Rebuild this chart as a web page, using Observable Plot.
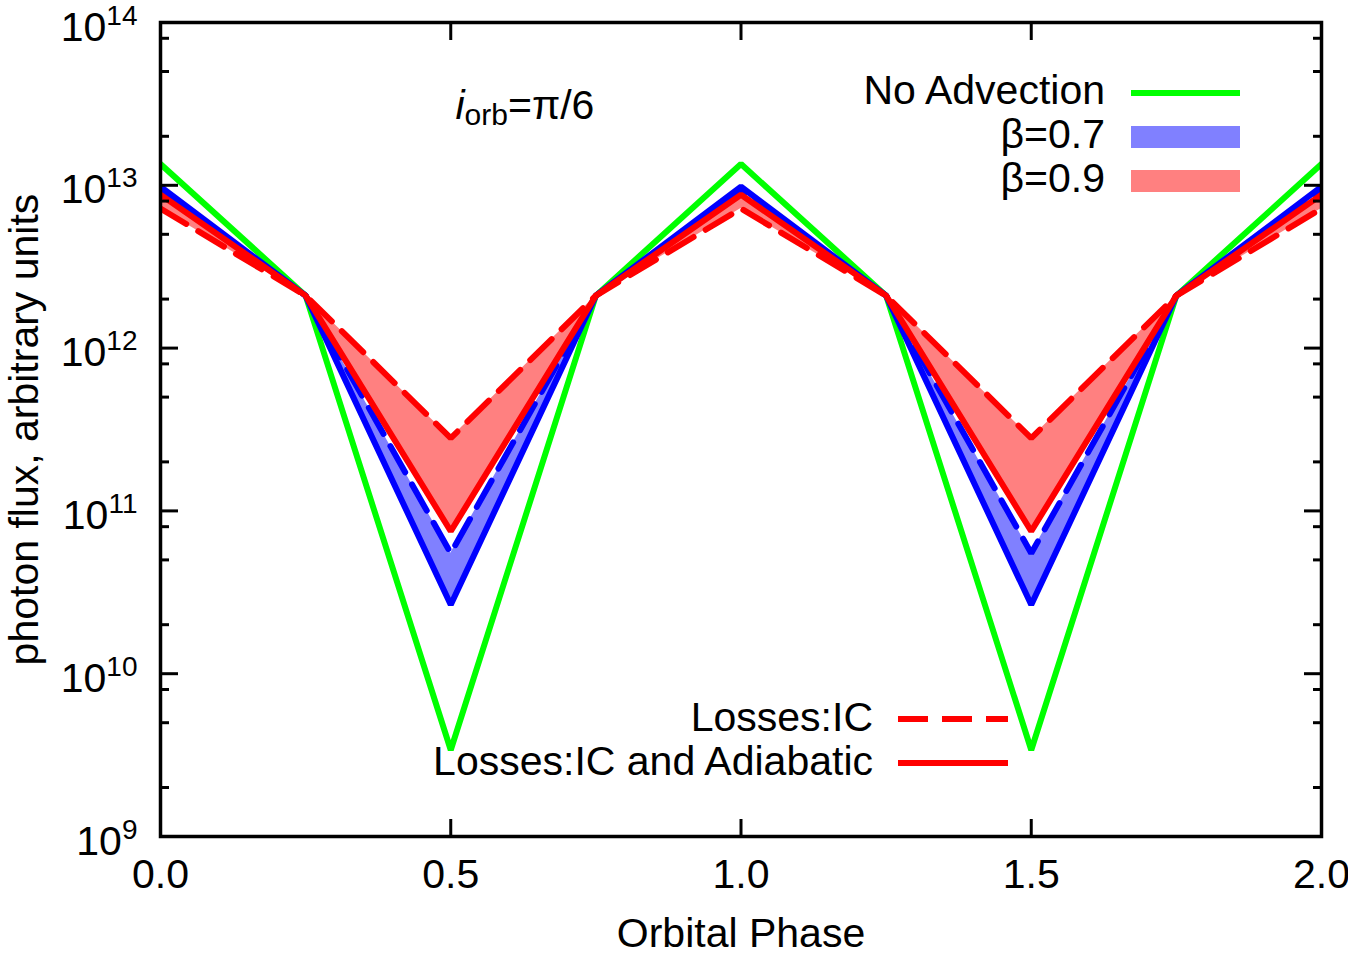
<!DOCTYPE html>
<html><head><meta charset="utf-8">
<script src="https://cdn.jsdelivr.net/npm/d3@7"></script>
<script src="https://cdn.jsdelivr.net/npm/@observablehq/plot@0.6"></script>
<style>html,body{margin:0;padding:0;background:#fff;overflow:hidden}#chart svg{display:block}</style>
</head><body><div id="chart"></div>
<script>
// ---- data ----
const phase        = [0, 0.25, 0.5, 0.75, 1.0, 1.25, 1.5, 1.75, 2.0];
const noAdvection  = [1.35e13, 2.1e12, 3.4e9, 2.1e12, 1.35e13, 2.1e12, 3.4e9, 2.1e12, 1.35e13];
const beta07IC     = [9.3e12, 2.1e12, 5.5e10, 2.1e12, 9.3e12, 2.1e12, 5.5e10, 2.1e12, 9.3e12];
const beta07ICAd   = [9.8e12, 2.1e12, 2.65e10, 2.1e12, 9.8e12, 2.1e12, 2.65e10, 2.1e12, 9.8e12];
const beta09IC     = [7.2e12, 2.1e12, 2.8e11, 2.1e12, 7.2e12, 2.1e12, 2.8e11, 2.1e12, 7.2e12];
const beta09ICAd   = [8.75e12, 2.1e12, 7.5e10, 2.1e12, 8.75e12, 2.1e12, 7.5e10, 2.1e12, 8.75e12];

const yMajorTicks = [1e9, 1e10, 1e11, 1e12, 1e13, 1e14];
const yMinorTicks = [2e9, 5e9, 8e9, 2e10, 5e10, 8e10, 2e11, 5e11, 8e11, 2e12, 5e12, 8e12, 2e13, 5e13, 8e13];
const xTicks      = [0, 0.5, 1, 1.5, 2];
const xTickLabels = ["0.0", "0.5", "1.0", "1.5", "2.0"];

const topLegendLabels   = ["No Advection", "β=0.7", "β=0.9"];
const topLegendColors   = ["#00ff00", "#8080ff", "#ff8080"];
const lossLegendLabels  = ["Losses:IC", "Losses:IC and Adiabatic"];
const xLabel = "Orbital Phase";
const yLabel = "photon flux, arbitrary units";
const inclinationLabel = "i|orb|=π/6";

// ---- table ----
const rows = phase.map((p, i) => ({
  phase: p, noAdv: noAdvection[i],
  b7ic: beta07IC[i], b7ad: beta07ICAd[i],
  b9ic: beta09IC[i], b9ad: beta09ICAd[i]
}));

const FONT = "'Liberation Sans', Arial, Helvetica, sans-serif";
const FS = 41;
const W = 1348, H = 955;
const mL = 160, mR = 27, mT = 22, mB = 119;
const frameRight = W - mR, frameBottom = H - mB;
const DASH = "30,14";

const plot = Plot.plot({
  width: W, height: H,
  marginLeft: mL, marginRight: mR, marginTop: mT, marginBottom: mB,
  style: {fontFamily: FONT, fontSize: FS + "px", background: "#fff", color: "#000", overflow: "visible"},
  x: {domain: [0, 2], label: null},
  y: {type: "log", domain: [1e9, 1e14], label: null},
  marks: [
    Plot.line(rows, {x: "phase", y: "noAdv", stroke: "#00ff00", strokeWidth: 6, strokeLinejoin: "miter", clip: true}),
    Plot.areaY(rows, {x: "phase", y1: "b7ic", y2: "b7ad", fill: "#8080ff", clip: true}),
    Plot.line(rows, {x: "phase", y: "b7ad", stroke: "#0000ff", strokeWidth: 6, strokeLinejoin: "miter", clip: true}),
    Plot.line(rows, {x: "phase", y: "b7ic", stroke: "#0000ff", strokeWidth: 6, strokeDasharray: DASH, strokeLinejoin: "miter", clip: true}),
    Plot.areaY(rows, {x: "phase", y1: "b9ic", y2: "b9ad", fill: "#ff8080", clip: true}),
    Plot.line(rows, {x: "phase", y: "b9ad", stroke: "#ff0000", strokeWidth: 6, strokeLinejoin: "miter", clip: true}),
    Plot.line(rows, {x: "phase", y: "b9ic", stroke: "#ff0000", strokeWidth: 6, strokeDasharray: DASH, strokeLinejoin: "miter", clip: true}),

    // inward ticks, all four sides
    Plot.axisY(yMajorTicks, {anchor: "left", tickSize: 18, dx: 18, strokeWidth: 3, tickFormat: () => "", label: null}),
    Plot.axisY(yMinorTicks, {anchor: "left", tickSize: 9, dx: 9, strokeWidth: 3, tickFormat: () => "", label: null}),
    Plot.axisY(yMajorTicks, {anchor: "right", tickSize: 18, dx: -18, strokeWidth: 3, tickFormat: () => "", label: null}),
    Plot.axisY(yMinorTicks, {anchor: "right", tickSize: 9, dx: -9, strokeWidth: 3, tickFormat: () => "", label: null}),
    Plot.axisX(xTicks, {anchor: "bottom", tickSize: 17, dy: -17, strokeWidth: 3, tickFormat: () => "", label: null}),
    Plot.axisX(xTicks, {anchor: "top", tickSize: 17, dy: 17, strokeWidth: 3, tickFormat: () => "", label: null}),

    // tick labels
    Plot.axisY(yMajorTicks, {anchor: "left", tickSize: 0, tickPadding: 23, dy: 5, fontSize: FS,
      tickFormat: d => "10^" + Math.round(Math.log10(d)), label: null}),
    Plot.axisX(xTicks, {anchor: "bottom", tickSize: 0, tickPadding: 22, fontSize: FS,
      tickFormat: d => xTickLabels[xTicks.indexOf(d)], label: null}),

    // axis titles
    Plot.text([xLabel], {frameAnchor: "bottom", dy: 110, fontSize: FS, fill: "#000"}),
    Plot.text([yLabel], {frameAnchor: "left", textAnchor: "middle", rotate: -90, dx: -136, fontSize: FS, fill: "#000"}),

    // annotation
    Plot.text([inclinationLabel], {frameAnchor: "top-left", dx: 295, dy: 67, textAnchor: "start", fontSize: FS, fill: "#000"}),

    Plot.frame({stroke: "#000", strokeWidth: 3.5})
  ]
});

document.getElementById("chart").append(plot);
const svg = plot.tagName.toLowerCase() === "svg" ? plot : plot.querySelector("svg");
const ns = "http://www.w3.org/2000/svg";

// superscripts on y tick labels
svg.querySelectorAll("text").forEach(t => {
  const s = t.textContent;
  if (!s.includes("^")) return;
  const [b, e] = s.split("^");
  t.textContent = "";
  const t1 = document.createElementNS(ns, "tspan"); t1.textContent = b;
  const t2 = document.createElementNS(ns, "tspan");
  t2.setAttribute("dy", -16); t2.setAttribute("font-size", 28); t2.textContent = e;
  t.append(t1, t2);
});

// i_orb annotation (italic i, subscript orb)
svg.querySelectorAll("text").forEach(t => {
  const s = t.textContent;
  if (!s.includes("|")) return;
  const [a, sub, rest] = s.split("|");
  t.textContent = "";
  const t1 = document.createElementNS(ns, "tspan"); t1.setAttribute("font-style", "italic"); t1.textContent = a;
  const t2 = document.createElementNS(ns, "tspan"); t2.setAttribute("dy", 6); t2.setAttribute("font-size", 30); t2.textContent = sub;
  const t3 = document.createElementNS(ns, "tspan"); t3.setAttribute("dy", -6); t3.textContent = rest;
  t.append(t1, t2, t3);
});

// legends (gnuplot-style keys)
const g = d3.select(svg).append("g").attr("font-family", FONT).attr("font-size", FS).attr("fill", "#000");
const keyTextX = frameRight - 216, keyS1 = frameRight - 190, keyS2 = frameRight - 81;
const keyRowY = [mT + 71, mT + 115, mT + 159];
topLegendLabels.forEach((lab, i) => {
  g.append("text").attr("x", keyTextX).attr("y", keyRowY[i] + 11).attr("text-anchor", "end").text(lab);
  if (i === 0) {
    g.append("line").attr("x1", keyS1).attr("x2", keyS2).attr("y1", keyRowY[i]).attr("y2", keyRowY[i])
      .attr("stroke", topLegendColors[i]).attr("stroke-width", 6);
  } else {
    g.append("rect").attr("x", keyS1).attr("width", keyS2 - keyS1).attr("y", keyRowY[i] - 11).attr("height", 22)
      .attr("fill", topLegendColors[i]);
  }
});
const lossTextX = 873, lossS1 = 898, lossS2 = 1008;
const lossRowY = [frameBottom - 117, frameBottom - 73];
lossLegendLabels.forEach((lab, i) => {
  g.append("text").attr("x", lossTextX).attr("y", lossRowY[i] + 12).attr("text-anchor", "end").text(lab);
  g.append("line").attr("x1", lossS1).attr("x2", lossS2).attr("y1", lossRowY[i]).attr("y2", lossRowY[i])
    .attr("stroke", "#ff0000").attr("stroke-width", 6).attr("stroke-dasharray", i === 0 ? DASH : null);
});
</script>
</body></html>
